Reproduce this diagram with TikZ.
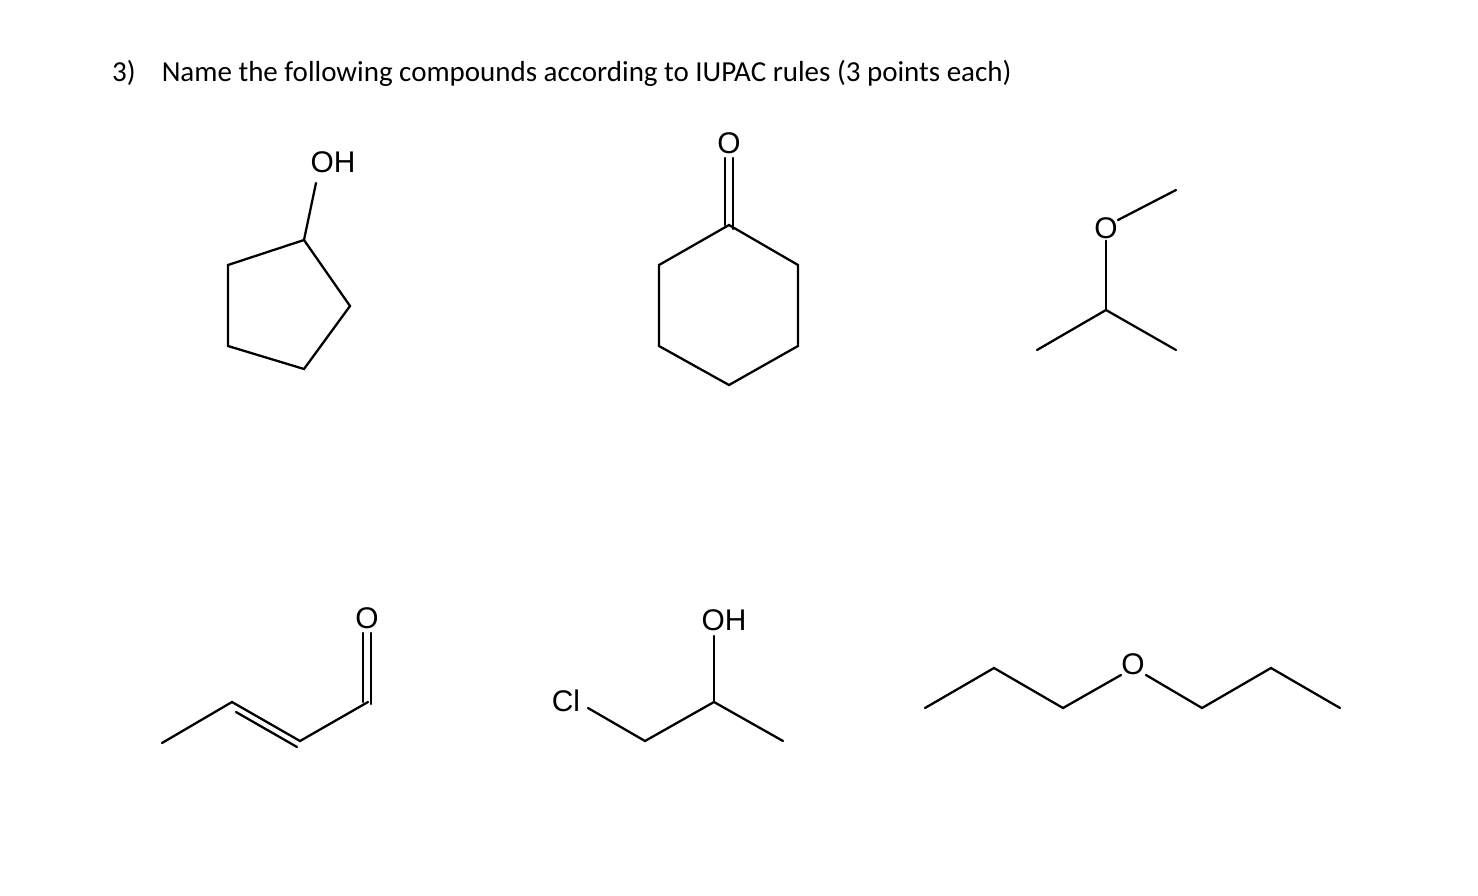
\documentclass[tikz,border=0pt]{standalone}
\usepackage{fontspec}
\setmainfont{Carlito}
\newfontfamily\arialf{Liberation Sans}
\begin{document}
\begin{tikzpicture}[x=0.02cm,y=-0.02cm,bond/.style={line width=1.3pt,line cap=round},
 atom/.style={font=\arialf\fontsize{17}{17}\selectfont,inner sep=1pt}]
\useasboundingbox (0,0) rectangle (1478,896);
\node[anchor=west,font=\fontsize{16.5}{18}\selectfont] (title) at (106,73) {3)\hspace{0.9em}Name the following compounds according to IUPAC rules (3 points each)};
% cyclopentanol
\node[atom] (oh1) at (333,162) {OH};
\coordinate (a1) at (304,240);\coordinate (a2) at (350,306);\coordinate (a3) at (304,369);\coordinate (a4) at (228,346);\coordinate (a5) at (228,265);
\draw[bond] (a1)--(a2)--(a3)--(a4)--(a5)--cycle;
\draw[bond] (a1)--(316,183);
% cyclohexanone
\node[atom] (o2) at (729,143) {O};
\coordinate (b1) at (729,225);\coordinate (b2) at (798,265);\coordinate (b3) at (798,346);\coordinate (b4) at (729,385);\coordinate (b5) at (659,346);\coordinate (b6) at (659,265);
\draw[bond] (b1)--(b2)--(b3)--(b4)--(b5)--(b6)--cycle;
\draw[bond] (725,158)--(725,225) (733,158)--(733,229);
% isopropyl methyl ether
\node[atom] (o3) at (1106,228) {O};
\coordinate (c1) at (1106,310);
\draw[bond] (1118,220)--(1176,190);
\draw[bond] (o3.south)--(c1);
\draw[bond] (1037,350)--(c1)--(1176,350);
% crotonaldehyde
\node[atom] (o4) at (367,618) {O};
\coordinate (d1) at (162,743);\coordinate (d2) at (232,702);\coordinate (d3) at (300,741);\coordinate (d4) at (368,702);
\draw[bond] (d1)--(d2)--(d3)--(d4);
\draw[bond] (236,712)--(297,747);
\draw[bond] (363,633)--(363,702) (371,633)--(371,704);
% chloro alcohol
\node[atom] (cl) at (566,701) {Cl};
\node[atom] (oh5) at (724,620) {OH};
\coordinate (e1) at (645,741);\coordinate (e2) at (714,702);\coordinate (e3) at (783,741);
\draw[bond] (588,708)--(e1)--(e2)--(e3);
\draw[bond] (e2)--(714,636);
% dipropyl ether
\node[atom] (o6) at (1133,664) {O};
\draw[bond] (925,708)--(994,668)--(1063,708)--(1121,675);
\draw[bond] (1146,675)--(1202,708)--(1271,668)--(1340,708);
\end{tikzpicture}
\end{document}
